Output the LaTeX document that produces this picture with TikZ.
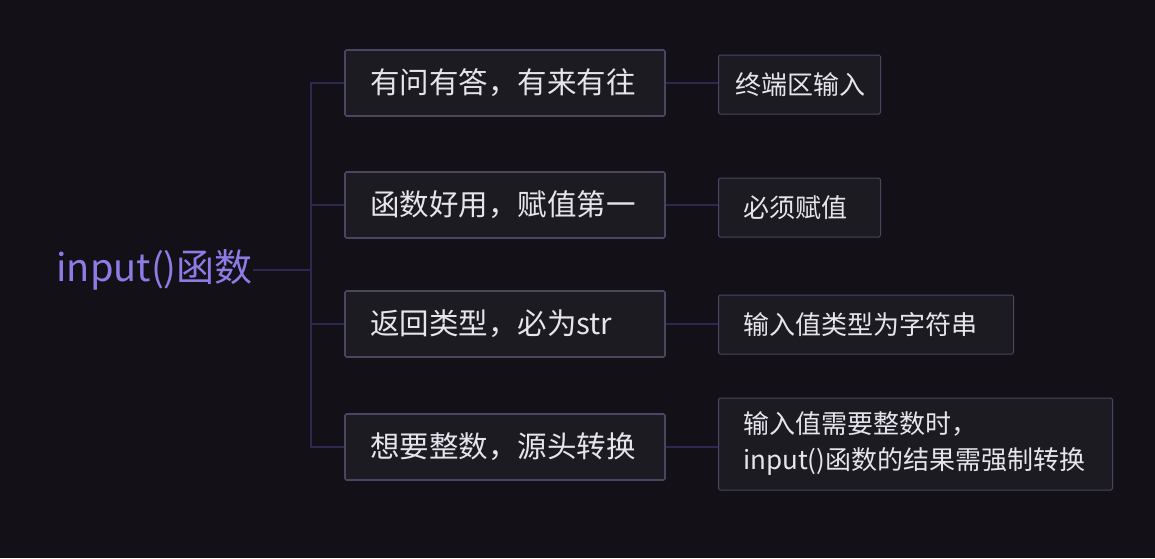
\documentclass[tikz,border=0pt]{standalone}
\usepackage{fontspec}
\setmainfont{Noto Sans CJK SC}
\definecolor{bg}{HTML}{131117}
\definecolor{boxfill}{HTML}{1D1B22}
\definecolor{boxline}{HTML}{4A4560}
\definecolor{conn}{HTML}{2E2850}
\definecolor{rootc}{HTML}{8E7CE6}
\definecolor{txt}{HTML}{E6E4EC}
\begin{document}
\begin{tikzpicture}[x=1pt,y=-1pt,
 mid/.style={draw=boxline,line width=1.6pt,fill=boxfill,rounded corners=1.5pt,minimum width=320pt,minimum height=66pt,inner sep=0pt},
 leaf/.style={draw=boxline,line width=1pt,fill=boxfill,rounded corners=1.5pt,minimum height=59pt,inner sep=0pt,anchor=west},
 mt/.style={text=txt,font=\fontsize{29.5}{34}\selectfont,anchor=west,inner sep=0pt},
 lt/.style={text=txt,font=\fontsize{26}{36}\selectfont,anchor=west,align=left,inner sep=0pt},
 cn/.style={draw=conn,line width=2pt}]
\fill[bg] (0,0) rectangle (1155,558);
\node[text=rootc,font=\fontsize{38}{44}\selectfont,anchor=east,inner sep=0pt] (root) at (253,270) {input()函数};
\coordinate (j) at (311,270);
\node[mid] (m1) at (505,83) {};
\node[mid] (m2) at (505,205) {};
\node[mid] (m3) at (505,324) {};
\node[mid] (m4) at (505,447) {};
\node[mt] at (370,83) {有问有答，有来有往};
\node[mt] at (370,205) {函数好用，赋值第一};
\node[mt] at (370,324) {返回类型，必为str};
\node[mt] at (370,447) {想要整数，源头转换};
\node[leaf,minimum width=162pt] (l1) at (718,84.5) {};
\node[lt] at (735,84.5) {终端区输入};
\node[leaf,minimum width=162pt] (l2) at (718,207.5) {};
\node[lt] at (743,207.5) {必须赋值};
\node[leaf,minimum width=295pt] (l3) at (718,324.5) {};
\node[lt] at (743,324.5) {输入值类型为字符串};
\node[leaf,minimum width=394pt,minimum height=92pt] (l4) at (718,444) {};
\node[lt] at (743,444) {输入值需要整数时，\\input()函数的结果需强制转换};
\draw[cn] (root.east) -- (j);
\draw[cn] (m1.west) -| (j) |- (m4.west);
\draw[cn] (j) |- (m2.west);
\draw[cn] (j) |- (m3.west);
\draw[cn] (m1.east) -- (m1.east -| l1.west);
\draw[cn] (m2.east) -- (m2.east -| l2.west);
\draw[cn] (m3.east) -- (m3.east -| l3.west);
\draw[cn] (m4.east) -- (m4.east -| l4.west);
\end{tikzpicture}
\end{document}
